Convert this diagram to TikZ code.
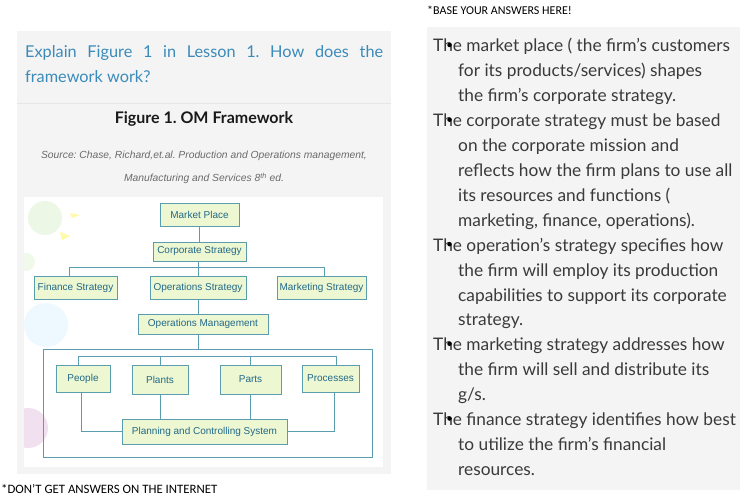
\documentclass[tikz,border=0pt]{standalone}
\usepackage{fontspec}
\setmainfont{Liberation Sans}
\newfontfamily\robo{Lato}
\newfontfamily\cali{Carlito}
\definecolor{panel}{HTML}{F4F4F4}
\definecolor{panelline}{HTML}{E6E6E6}
\definecolor{qblue}{HTML}{3B8BBA}
\definecolor{boxfill}{HTML}{EDF7D1}
\definecolor{boxline}{HTML}{5A9DAE}
\definecolor{boxtext}{HTML}{22698A}
\definecolor{anstext}{HTML}{3A3A3A}
\definecolor{srcgray}{HTML}{6A6A6A}
\frenchspacing
\begin{document}
\begin{tikzpicture}[x=1pt,y=-1pt,
  omBox/.style={draw=boxline, fill=boxfill, line width=0.9pt, inner sep=0pt,
    text=boxtext, font=\fontsize{10}{12}\selectfont},
  link/.style={draw=boxline, line width=0.9pt},
  ansline/.style={anchor=base west, inner sep=0pt, text=anstext,
    font=\robo\fontsize{17.3}{20}\selectfont},
  bulletdot/.style={circle, fill=black, inner sep=0pt, minimum size=4.5pt}]
\useasboundingbox (0,0) rectangle (756,503);
\fill[white] (0,0) rectangle (756,503);
% left panel
\fill[panel] (17,31) rectangle (391,474);
\draw[panelline, line width=0.8pt] (17,103) -- (391,103);
\node[anchor=base west, inner sep=0pt, text=qblue, font=\robo\fontsize{16.3}{19}\selectfont] (q1) at (25,58)
  {\makebox[358pt][s]{Explain Figure 1 in Lesson 1. How does the}};
\node[anchor=base west, inner sep=0pt, text=qblue, font=\robo\fontsize{16.3}{19}\selectfont] (q2) at (25,83)
  {framework work?};
\node[anchor=base, inner sep=0pt, font=\robo\bfseries\fontsize{16}{19}\selectfont, text=black!90] (ttl) at (204,124)
  {Figure 1. OM Framework};
\node[anchor=base, inner sep=0pt, font=\itshape\fontsize{10.3}{12}\selectfont, text=srcgray] (src1) at (204,158)
  {Source: Chase, Richard,et.al. Production and Operations management,};
\node[anchor=base, inner sep=0pt, font=\itshape\fontsize{10.3}{12}\selectfont, text=srcgray] (src2) at (204,182)
  {Manufacturing and Services 8\textsuperscript{th} ed.};
% diagram area
\fill[white] (24,197) rectangle (383,467);
\begin{scope}
\clip (24,197) rectangle (383,467);
\fill[yellow!25!green!10] (45,218) circle (17);
\fill[yellow!30!green!8] (26,262) circle (9);
\fill[blue!35!cyan!7] (46,325) circle (22);
\fill[violet!12] (28,428) circle (20);
\fill[yellow!35] (60,232) -- (70,236) -- (62,240) -- cycle;
\fill[yellow!35] (70,213) -- (80,215) -- (72,218) -- cycle;
\end{scope}
% nodes
\node[omBox, minimum width=79pt, minimum height=23pt] (mp) at (199.5,214.5) {Market Place};
\node[omBox, minimum width=93pt, minimum height=19pt] (cs) at (199.5,251.5) {Corporate Strategy};
\node[omBox, minimum width=83pt, minimum height=23pt] (fs) at (75.5,287.5) {Finance Strategy};
\node[omBox, minimum width=96pt, minimum height=23pt] (os) at (198,287.5) {Operations Strategy};
\node[omBox, minimum width=89pt, minimum height=23pt] (ms) at (321.5,287.5) {Marketing Strategy};
\node[omBox, minimum width=130pt, minimum height=20pt] (om) at (203,324) {Operations Management};
\node[draw=boxline, line width=0.9pt, minimum width=329pt, minimum height=108pt, inner sep=0pt] (big) at (207.5,403) {};
\node[omBox, minimum width=54pt, minimum height=27pt] (pe) at (83,378.5) {People};
\node[omBox, minimum width=56pt, minimum height=29pt] (pl) at (160,379.5) {Plants};
\node[omBox, minimum width=61pt, minimum height=29pt] (pa) at (250.5,379.5) {Parts};
\node[omBox, minimum width=57pt, minimum height=27pt] (pr) at (330.5,378.5) {Processes};
\node[omBox, minimum width=165pt, minimum height=25pt] (pcs) at (204.5,431.5) {Planning and Controlling System};
% connectors
\coordinate (bus) at (0,267);
\coordinate (ibus) at (0,356);
\coordinate (fsTop) at ([xshift=-6pt]fs.north);
\coordinate (msTop) at ([xshift=2.5pt]ms.north);
\coordinate (peTop) at ([xshift=-5pt]pe.north);
\coordinate (prTop) at ([xshift=6pt]pr.north);
\coordinate (peBot) at ([xshift=-2pt]pe.south);
\coordinate (prBot) at ([xshift=3.5pt]pr.south);
\draw[link] (mp) -- (cs);
\draw[link] (cs.south -| os.north) -- (os.north);
\draw[link] (fsTop) |- (bus -| msTop) -- (msTop);
\draw[link] (os.south) -- (os.south |- om.north);
\draw[link] (om.south -| os.south) -- (big.north -| os.south);
\draw[link] (peTop) |- (ibus -| prTop) -- (prTop);
\draw[link] (pl.north) -- (pl.north |- ibus);
\draw[link] (pa.north) -- (pa.north |- ibus);
\draw[link] (peBot) |- (pcs.west);
\draw[link] (prBot) |- (pcs.east);
\draw[link] (pl.south) -- (pl.south |- pcs.north);
\draw[link] (pa.south) -- (pa.south |- pcs.north);
% bottom-left note
\node[anchor=base west, inner sep=0pt, font=\cali\fontsize{12.8}{14}\selectfont, text=black] (note1) at (1,493)
  {*DON’T GET ANSWERS ON THE INTERNET};
% right side
\node[anchor=base west, inner sep=0pt, font=\cali\fontsize{12}{13}\selectfont, text=black] (note2) at (427,15)
  {*BASE YOUR ANSWERS HERE!};
\fill[panel] (427,27) rectangle (740,490);
\node[ansline] (a1) at (433,52) {The market place ( the firm’s customers};
\node[ansline] (a2) at (458,76.9) {for its products/services) shapes};
\node[ansline] (a3) at (458,101.8) {the firm’s corporate strategy.};
\node[ansline] (a4) at (433,126.7) {The corporate strategy must be based};
\node[ansline] (a5) at (458,151.6) {on the corporate mission and};
\node[ansline] (a6) at (458,176.5) {reflects how the firm plans to use all};
\node[ansline] (a7) at (458,201.4) {its resources and functions (};
\node[ansline] (a8) at (458,226.3) {marketing, finance, operations).};
\node[ansline] (a9) at (433,251.2) {The operation’s strategy specifies how};
\node[ansline] (a10) at (458,276.1) {the firm will employ its production};
\node[ansline] (a11) at (458,301) {capabilities to support its corporate};
\node[ansline] (a12) at (458,325.9) {strategy.};
\node[ansline] (a13) at (433,350.8) {The marketing strategy addresses how};
\node[ansline] (a14) at (458,375.7) {the firm will sell and distribute its};
\node[ansline] (a15) at (458,400.6) {g/s.};
\node[ansline] (a16) at (433,425.5) {The finance strategy identifies how best};
\node[ansline] (a17) at (458,450.4) {to utilize the firm’s financial};
\node[ansline] (a18) at (458,475.3) {resources.};
\node[bulletdot] (b1) at (449.5,45) {};
\node[bulletdot] (b2) at (449.5,119.7) {};
\node[bulletdot] (b3) at (449.5,244.2) {};
\node[bulletdot] (b4) at (449.5,343.8) {};
\node[bulletdot] (b5) at (449.5,418.5) {};
\end{tikzpicture}
\end{document}
